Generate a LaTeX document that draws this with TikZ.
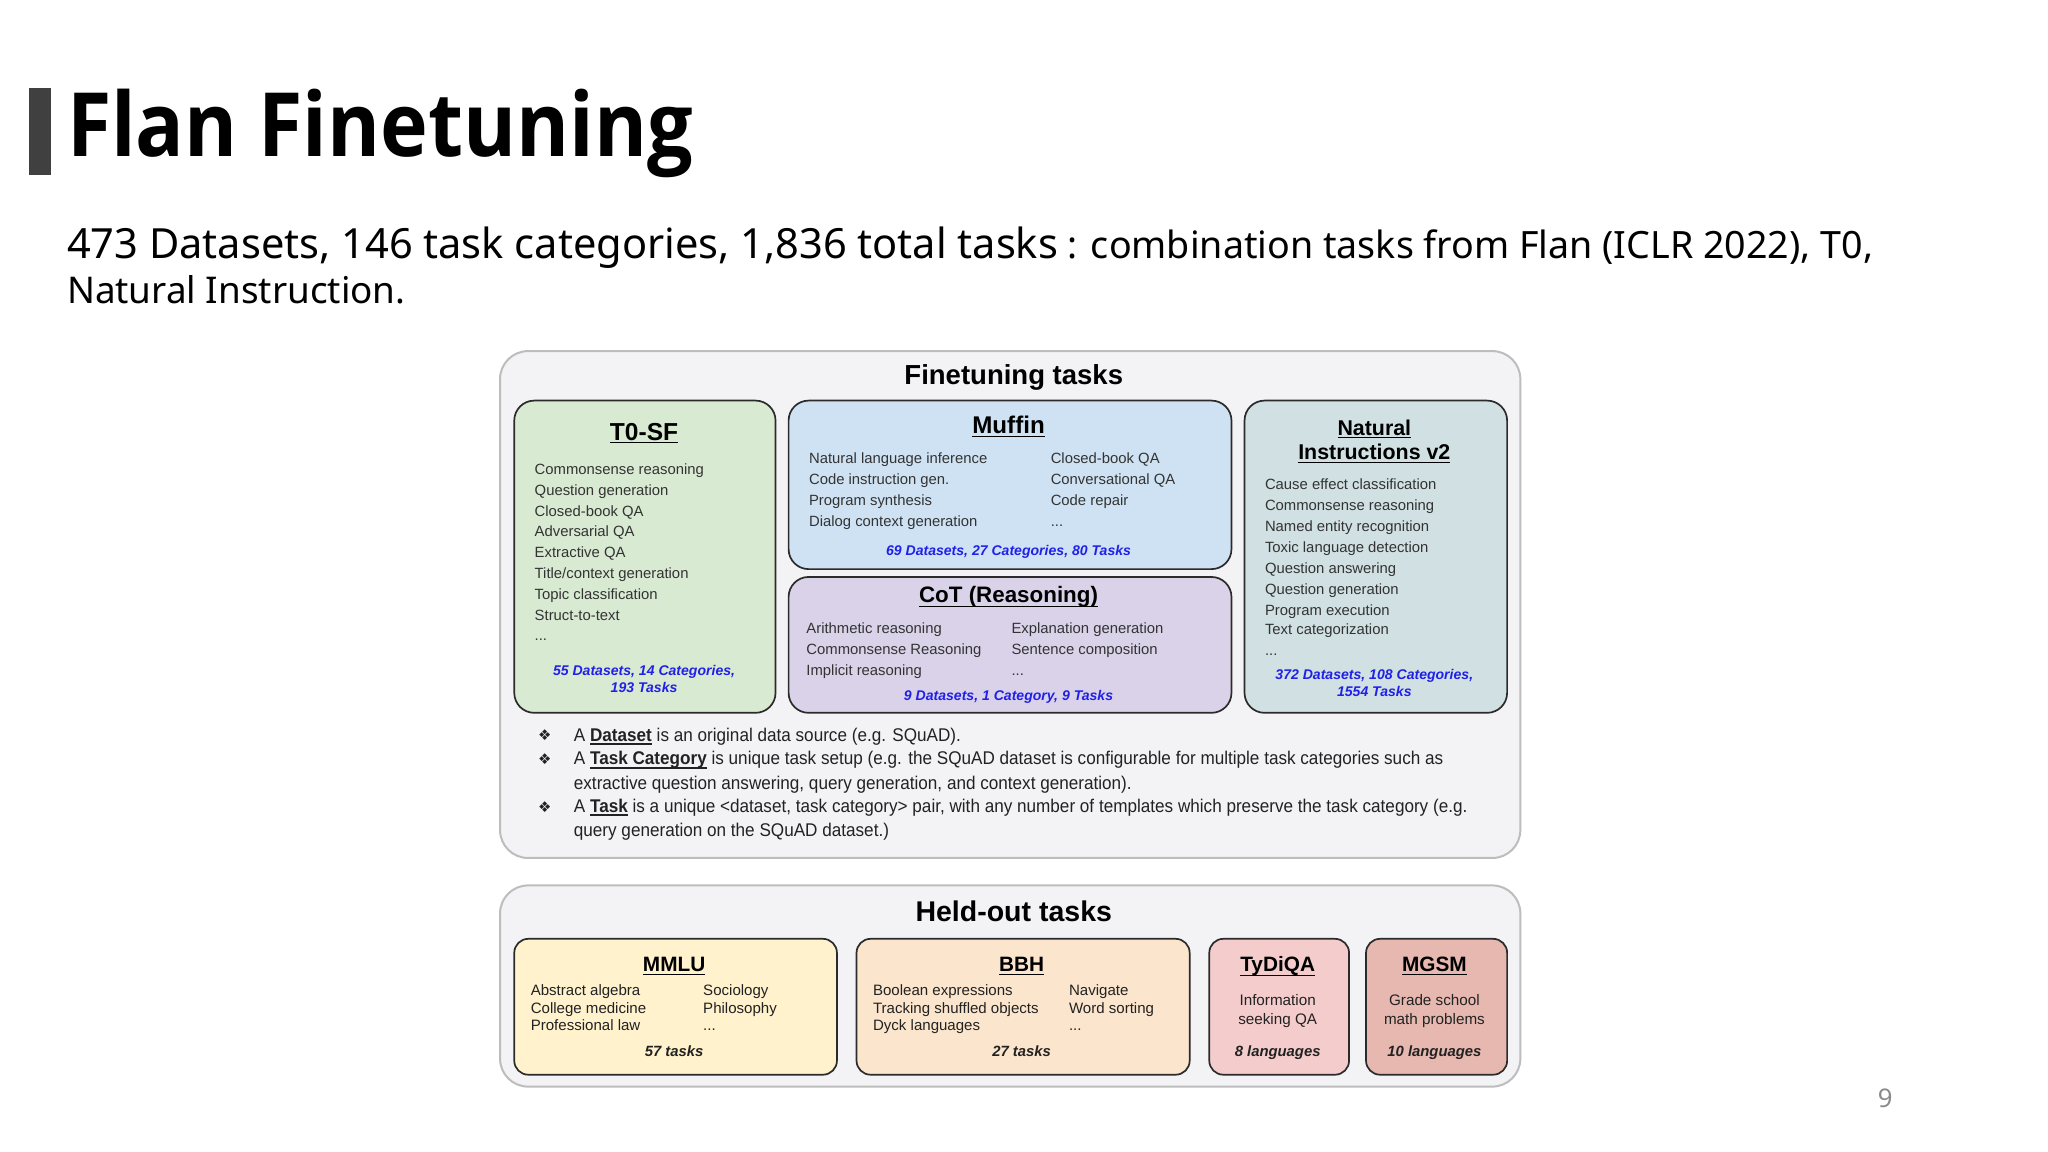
\documentclass[tikz,border=0pt]{standalone}
\usepackage{fontspec}
\setmainfont{Liberation Sans}
\newfontfamily\malgun{Noto Sans}
\newfontfamily\titlefont[FakeStretch=0.91]{Open Sans}
\newfontfamily\condfont[FakeStretch=0.93]{Liberation Sans}
\newfontfamily\symfont{DejaVu Sans}
\newcommand\fs[1]{\fontsize{#1}{#1}\selectfont}
\newcommand\ulx[2][1.6pt]{\leavevmode\setbox0\hbox{#2}\rlap{\rule[-#1]{\wd0}{0.7pt}}\box0}
\definecolor{panelfill}{HTML}{F3F3F5}
\definecolor{panelborder}{HTML}{BDBDBD}
\definecolor{boxborder}{HTML}{2B2B2B}
\definecolor{czsf}{HTML}{D9EAD3}
\definecolor{cmuf}{HTML}{CFE2F3}
\definecolor{ccot}{HTML}{D9D2E9}
\definecolor{cni}{HTML}{D0E0E3}
\definecolor{cmmlu}{HTML}{FFF2CC}
\definecolor{cbbh}{HTML}{FCE5CD}
\definecolor{ctydi}{HTML}{F4CCCC}
\definecolor{cmgsm}{HTML}{E6B8AF}
\definecolor{bluetxt}{HTML}{2020E8}
\definecolor{itemtext}{HTML}{333333}
\definecolor{htext}{HTML}{222222}
\definecolor{titlebar}{HTML}{404040}
\definecolor{pagegray}{HTML}{8A8A8A}
\newcommand\mkbox[6]{\node[#2, minimum width={(#5-#3)*0.65979pt}, minimum height={(#6-#4)*0.65979pt}] (#1) at (#3,#4) {};}
\tikzset{
  panel/.style={draw=panelborder, fill=panelfill, line width=1pt, rounded corners=14pt, anchor=north west, inner sep=0pt},
  tbox/.style={draw=boxborder, line width=0.85pt, rounded corners=10pt, anchor=north west, inner sep=0pt},
  hbox/.style={draw=boxborder, line width=0.85pt, rounded corners=7pt, anchor=north west, inner sep=0pt},
  item/.style={anchor=base west, inner sep=0pt, text=itemtext, font=\fs{7.5}},
  hitem/.style={anchor=base west, inner sep=0pt, text=htext, font=\fs{7.6}},
  hcitem/.style={anchor=base, inner sep=0pt, text=htext, font=\fs{7.7}},
  stat/.style={anchor=base, inner sep=0pt, text=bluetxt, font=\fs{7.1}\bfseries\itshape},
  hstat/.style={anchor=base, inner sep=0pt, text=htext, font=\fs{7.5}\bfseries\itshape},
  btitle/.style={anchor=base, inner sep=0pt, text=black},
  bul/.style={anchor=base west, inner sep=0pt, text=htext, font=\condfont\fs{9.3}},
  bulsym/.style={anchor=base, inner sep=0pt, text=htext, font=\symfont\fs{7.5}}
}
\begin{document}
\begin{tikzpicture}[x=0.65979pt,y=-0.65979pt]
\useasboundingbox[fill=white] (0,0) rectangle (1552,873);
\begin{scope}[scale=0.99, transform shape]

% title
\mkbox{bar}{anchor=north west, fill=titlebar, inner sep=0pt}{22}{67}{39}{134}
\node[anchor=base west, inner sep=0pt, font=\titlefont\bfseries\fs{44.8}] (title) at (51,120) {Flan Finetuning};
\node[anchor=base west, inner sep=0pt, font=\malgun] (sub1) at (51,197.5) {{\fs{21}473 Datasets, 146 task categories, 1,836 total tasks}{\fs{19} : combination tasks from Flan (ICLR 2022), T0,}};
\node[anchor=base west, inner sep=0pt, font=\malgun\fs{18.6}] (sub2) at (51,232) {Natural Instruction.};

% finetuning panel
\mkbox{ftpanel}{panel}{382}{268}{1163}{656}
\node[btitle, font=\bfseries\fs{13.9}] (fttitle) at (776,294) {Finetuning tasks};

% T0-SF
\mkbox{zsf}{tbox, fill=czsf}{393}{306}{593}{545}
\node[btitle, font=\bfseries\fs{12.4}] (zsft) at (493,337) {\ulx{T0-SF}};
\node[item] (z1) at (409,363) {Commonsense reasoning};
\node[item] (z2) at (409,379) {Question generation};
\node[item] (z3) at (409,395) {Closed-book QA};
\node[item] (z4) at (409,411) {Adversarial QA};
\node[item] (z5) at (409,427) {Extractive QA};
\node[item] (z6) at (409,443) {Title/context generation};
\node[item] (z7) at (409,459) {Topic classification};
\node[item] (z8) at (409,475) {Struct-to-text};
\node[item] (z9) at (409,490) {...};
\node[stat] (zs1) at (493,517) {55 Datasets, 14 Categories,};
\node[stat] (zs2) at (493,530) {193 Tasks};

% Muffin
\mkbox{muf}{tbox, fill=cmuf}{603}{306}{942}{435}
\node[btitle, font=\bfseries\fs{12.2}] (muft) at (772,332) {\ulx{Muffin}};
\node[item] (m1) at (619,355) {Natural language inference};
\node[item] (m2) at (619,371) {Code instruction gen.};
\node[item] (m3) at (619,387) {Program synthesis};
\node[item] (m4) at (619,403) {Dialog context generation};
\node[item] (m5) at (804,355) {Closed-book QA};
\node[item] (m6) at (804,371) {Conversational QA};
\node[item] (m7) at (804,387) {Code repair};
\node[item] (m8) at (804,403) {...};
\node[stat] (ms) at (772,425) {69 Datasets, 27 Categories, 80 Tasks};

% CoT
\mkbox{cot}{tbox, fill=ccot}{603}{441}{942}{545}
\node[btitle, font=\bfseries\fs{11.3}] (cott) at (772,461) {\ulx[2.4pt]{CoT (Reasoning)}};
\node[item] (c1) at (617,485) {Arithmetic reasoning};
\node[item] (c2) at (617,501) {Commonsense Reasoning};
\node[item] (c3) at (617,517) {Implicit reasoning};
\node[item] (c4) at (774,485) {Explanation generation};
\node[item] (c5) at (774,501) {Sentence composition};
\node[item] (c6) at (774,517) {...};
\node[stat] (cs) at (772,536) {9 Datasets, 1 Category, 9 Tasks};

% Natural Instructions v2
\mkbox{ni}{tbox, fill=cni}{952}{306}{1153}{545}
\node[btitle, font=\bfseries\fs{10.8}] (nit1) at (1052,333) {\ulx{Natural}};
\node[btitle, font=\bfseries\fs{10.8}] (nit2) at (1052,352) {\ulx{Instructions v2}};
\node[item] (n1) at (968,375) {Cause effect classification};
\node[item] (n2) at (968,391) {Commonsense reasoning};
\node[item] (n3) at (968,407) {Named entity recognition};
\node[item] (n4) at (968,423) {Toxic language detection};
\node[item] (n5) at (968,439) {Question answering};
\node[item] (n6) at (968,455) {Question generation};
\node[item] (n7) at (968,471) {Program execution};
\node[item] (n8) at (968,486) {Text categorization};
\node[item] (n9) at (968,502) {...};
\node[stat] (ns1) at (1052,520) {372 Datasets, 108 Categories,};
\node[stat] (ns2) at (1052,533) {1554 Tasks};

% definitions
\node[bulsym] (b1) at (417,567) {❖};
\node[bulsym] (b2) at (417,585) {❖};
\node[bulsym] (b3) at (417,622) {❖};
\node[bul] (d1) at (439,567.5) {A \textbf{\ulx{Dataset}} is an original data source (e.g. SQuAD).};
\node[bul] (d2) at (439,585.5) {A \textbf{\ulx[2pt]{Task Category}} is unique task setup (e.g. the SQuAD dataset is configurable for multiple task categories such as};
\node[bul] (d3) at (439,604) {extractive question answering, query generation, and context generation).};
\node[bul] (d4) at (439,622) {A \textbf{\ulx{Task}} is a unique <dataset, task category> pair, with any number of templates which preserve the task category (e.g.};
\node[bul] (d5) at (439,640.5) {query generation on the SQuAD dataset.)};

% held-out panel
\mkbox{hopanel}{panel}{382}{677}{1163}{831}
\node[btitle, font=\bfseries\fs{14.4}] (hotitle) at (776,705) {Held-out tasks};

% MMLU
\mkbox{mmlu}{hbox, fill=cmmlu}{393}{718}{640}{822}
\node[btitle, font=\bfseries\fs{10.5}] (mmlut) at (516,744) {\ulx{MMLU}};
\node[hitem] (u1) at (406,762) {Abstract algebra};
\node[hitem] (u2) at (406,775.5) {College medicine};
\node[hitem] (u3) at (406,789) {Professional law};
\node[hitem] (u4) at (538,762) {Sociology};
\node[hitem] (u5) at (538,775.5) {Philosophy};
\node[hitem] (u6) at (538,789) {...};
\node[hstat] (us) at (516,809) {57 tasks};

% BBH
\mkbox{bbh}{hbox, fill=cbbh}{655}{718}{910}{822}
\node[btitle, font=\bfseries\fs{10.5}] (bbht) at (782,744) {\ulx{BBH}};
\node[hitem] (h1) at (668,762) {Boolean expressions};
\node[hitem] (h2) at (668,775.5) {Tracking shuffled objects};
\node[hitem] (h3) at (668,789) {Dyck languages};
\node[hitem] (h4) at (818,762) {Navigate};
\node[hitem] (h5) at (818,775.5) {Word sorting};
\node[hitem] (h6) at (818,789) {...};
\node[hstat] (hs) at (782,809) {27 tasks};

% TyDiQA
\mkbox{tydi}{hbox, fill=ctydi}{925}{718}{1032}{822}
\node[btitle, font=\bfseries\fs{10.5}] (tydit) at (978,744) {\ulx[2.2pt]{TyDiQA}};
\node[hcitem] (t1) at (978,770) {Information};
\node[hcitem] (t2) at (978,784) {seeking QA};
\node[hstat] (ts) at (978,809) {8 languages};

% MGSM
\mkbox{mgsm}{hbox, fill=cmgsm}{1045}{718}{1153}{822}
\node[btitle, font=\bfseries\fs{10.5}] (mgsmt) at (1098,744) {\ulx{MGSM}};
\node[hcitem] (g1) at (1098,770) {Grade school};
\node[hcitem] (g2) at (1098,784) {math problems};
\node[hstat] (gs) at (1098,809) {10 languages};

% page number
\node[anchor=base, inner sep=0pt, text=pagegray, font=\malgun\fs{13}] (pnum) at (1443,848) {9};
\end{scope}
\end{tikzpicture}
\end{document}
